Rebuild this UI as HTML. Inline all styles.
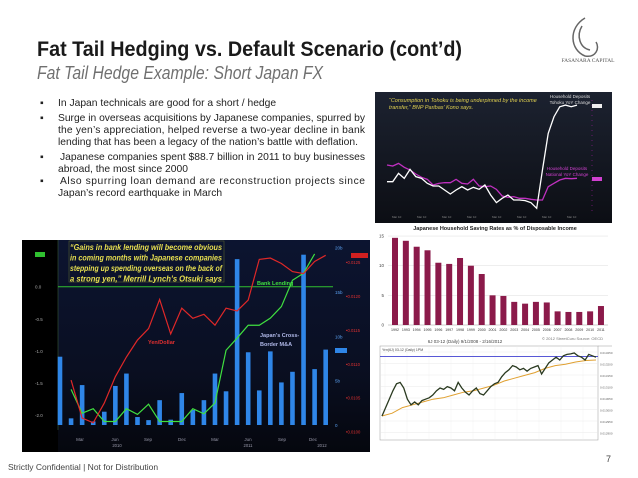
<!DOCTYPE html>
<html><head><meta charset="utf-8"><style>
html,body{margin:0;padding:0;background:#fff;}
svg{display:block;font-family:"Liberation Sans",sans-serif;}
</style></head><body>
<svg id="s" width="638" height="478" viewBox="0 0 638 478" xmlns="http://www.w3.org/2000/svg">
<defs>
<linearGradient id="lg" x1="0" y1="0" x2="0" y2="1"><stop offset="0" stop-color="#0c1430"/><stop offset="0.6" stop-color="#0a0f22"/><stop offset="1" stop-color="#05070e"/></linearGradient>
<linearGradient id="tg" x1="0" y1="0" x2="0" y2="1"><stop offset="0" stop-color="#1c2230"/><stop offset="1" stop-color="#0c0e14"/></linearGradient>
</defs>
<text x="37" y="56" font-size="21" font-weight="bold" fill="#1a1a1a" textLength="425" lengthAdjust="spacingAndGlyphs">Fat Tail Hedging vs. Default Scenario (cont’d)</text>
<text x="37" y="79" font-size="18" font-style="italic" fill="#707070" textLength="286" lengthAdjust="spacingAndGlyphs">Fat Tail Hedge Example: Short Japan FX</text>
<g>
<path d="M585 18 C568 28 570 50 585 56 C596 58 600 48 596 42 M582 26 C576 36 580 48 590 50" stroke="#666" stroke-width="1.5" fill="none"/>
<text x="588" y="62" font-size="5.5" fill="#555" text-anchor="middle" font-family="Liberation Serif,serif">FASANARA CAPITAL</text>
</g>
<g font-size="10.3" fill="#222">
<text x="40" y="106">▪</text><text x="58" y="106">In Japan technicals are good for a short / hedge</text>
<text x="40" y="121">▪</text><text x="58" y="121" textLength="307" lengthAdjust="spacing">Surge in overseas acquisitions by Japanese companies, spurred by</text>
<text x="58" y="133" textLength="307" lengthAdjust="spacing">the yen’s appreciation, helped reverse a two-year decline in bank</text>
<text x="58" y="145" textLength="300" lengthAdjust="spacing">lending that has been a legacy of the nation’s battle with deflation.</text>
<text x="40" y="160">▪</text><text x="60" y="160" textLength="305" lengthAdjust="spacing">Japanese companies spent $88.7 billion in 2011 to buy businesses</text>
<text x="58" y="172">abroad, the most since 2000</text>
<text x="40" y="184">▪</text><text x="60" y="184" textLength="305" lengthAdjust="spacing">Also spurring loan demand are reconstruction projects since</text>
<text x="58" y="196">Japan’s record earthquake in March</text>
</g>
<g id="tr">
<rect x="375" y="92" width="237" height="131" fill="url(#tg)"/>
<text x="389" y="102" font-size="5.5" font-style="italic" fill="#e0d050">“Consumption in Tohoku is being underpinned by the income</text>
<text x="389" y="109" font-size="5.5" font-style="italic" fill="#e0d050">transfer,” BNP Paribas’ Kono says.</text>
<text x="570" y="98" font-size="4.5" fill="#ddd" text-anchor="middle">Household Deposits</text>
<text x="570" y="104" font-size="4.5" fill="#ddd" text-anchor="middle">Tohoku YoY Change</text>
<text x="567" y="170" font-size="4.5" fill="#d040d0" text-anchor="middle">Household Deposits</text>
<text x="567" y="176" font-size="4.5" fill="#d040d0" text-anchor="middle">National YoY Change</text>
<line x1="592" y1="100" x2="592" y2="215" stroke="#a020a0" stroke-width="0.6" stroke-dasharray="1,4"/>
<rect x="592" y="104" width="10" height="4" fill="#eee"/><rect x="592" y="177" width="10" height="4" fill="#d040d0"/>
</g>
<g id="sv">
<text x="495" y="230" font-size="5.5" font-weight="bold" fill="#222" text-anchor="middle">Japanese Household Saving Rates as % of Disposable Income</text>
<text x="603" y="340" font-size="4" fill="#777" text-anchor="end">© 2012 StreetCuru  Source: OECD</text>
</g>
<g id="bt">
<text x="465" y="343" font-size="4.5" fill="#444" text-anchor="middle">6J 03-12 (Daily) 9/1/2008 - 2/16/2012</text>
<rect x="380" y="346" width="218" height="94" fill="#fff" stroke="#999" stroke-width="0.5"/>
<line x1="598" y1="346" x2="612" y2="346" stroke="#999" stroke-width="0.5"/>
<text x="382" y="351" font-size="3.5" fill="#444">Yen(6J) 03-12 (Daily) 1PM</text>
</g>
<g id="lc">
<rect x="22" y="240" width="348" height="212" fill="url(#lg)"/>
<rect x="22" y="240" width="36" height="212" fill="#000"/>
</g>
<text x="8" y="470" font-size="8.5" fill="#444">Strictly Confidential | Not for Distribution</text>
<text x="606" y="462" font-size="9" fill="#444">7</text>
</svg>
<script>
const NS="http://www.w3.org/2000/svg";
function mk(p,t,a){const e=document.createElementNS(NS,t);for(const k in a)e.setAttribute(k,a[k]);p.appendChild(e);return e;}
// ---- top-right chart data
const tohokuValues=[9.5,9.5,12,10.5,13.2,11,10.5,9,8.2,8.2,7,5.8,7,8,7,7.8,7.2,8.5,5.5,3.2,4.5,5.5,4,4,3.8,3.2,1.5,13,24,29,32,32.5,32,32.5];
const nationalValues=[14.5,14.2,15,13.8,13,11.8,10.8,10.2,8.5,9,9.2,9.2,10.2,9,8.8,10.2,8.2,8,8.2,7.2,5.2,4.8,5,4.5,4.5,4.2,4,4,8,9,10,10.5,10.4,10.5];
// ---- saving rates
const savingYears=["1992","1993","1994","1995","1996","1997","1998","1999","2000","2001","2002","2003","2004","2005","2006","2007","2008","2009","2010","2011"];
const savingRates=[14.7,14.2,13.2,12.6,10.5,10.3,11.3,10.0,8.6,5.0,4.9,3.9,3.6,3.9,3.8,2.3,2.2,2.2,2.3,3.2];
const savingTicks=[0,5,10,15];
// ---- futures chart
const priceValues=[5,8,11,14,16.5,17,15,11,9,10,9,10.5,11,11.5,12.5,14,15,14.5,15.5,15,14,17,15,13.5,12.5,14,15,13,12.5,14,15.5,16.5,17,19,20.5,21.5,23,22.5,21.5,22,21,22,22.5,23,20,22,24,25,26,25,26.5,27,27.2,27.5,26.5,26,25,27,26.5,26];
const maValues=[5,6,8,9,10,11,11.5,12.5,13.5,14,15,16,17.5,18.5,19.5,20.5,22,23,23.5,24.3,24.8,25];
const resistanceLevel=25.2;
// ---- left chart
const monthLabels=["Mar","Jun","Sep","Dec","Mar","Jun","Sep","Dec"];
const yearLabels=["2010","2011","2012"];
const maValuesBn=[7.7,0.75,4.5,0.4,1.5,4.4,5.8,0.9,0.55,2.8,0.6,3.6,1.7,2.8,5.8,3.8,18.7,8.2,3.9,8.3,4.8,6.0,19.2,6.3,8.5];
const bankLending=[-1.6,-1.97,-1.9,-2.1,-2.1,-1.9,-1.99,-1.83,-2.1,-2.1,-2.1,-1.9,-1.98,-1.81,-0.99,-0.8,-0.6,-0.6,-0.49,-0.31,0.1,0.21,0.51];
const yenDollar=[0.01076,0.01020,0.01013,0.01042,0.01081,0.01110,0.01135,0.01152,0.01195,0.01144,0.01182,0.01167,0.01173,0.01157,0.01182,0.01178,0.01194,0.01254,0.01256,0.01248,0.01236,0.01233,0.01251,0.01260];
const leftTicks=["0.0","-0.5","-1.0","-1.5","-2.0"];
const blueTicks=["0","5b","10b","15b","20b"];
const redTicks=["0.0100","0.0105","0.0110","0.0115","0.0120","0.0125"];

function pts(arr,fx,fy,off){return arr.map((v,i)=>fx(i+(off||0))+","+fy(v)).join(" ");}

// top-right
(function(){
 const g=document.getElementById('tr');
 const x=i=>387+i*(577-387)/(tohokuValues.length-1), y=v=>213.3-3.33*v;
 for(let i=0;i<8;i++){const t=mk(g,'text',{x:392+i*25,y:218,'font-size':3,fill:'#888'});t.textContent="Mar 10";}
 const l1=mk(g,'polyline',{points:pts(nationalValues,x,y),fill:'none',stroke:'#c030c0','stroke-width':1.3});
 
 
 const l2=mk(g,'polyline',{points:pts(tohokuValues,x,y),fill:'none',stroke:'#fff','stroke-width':1.3});
 
 
})();
// saving
(function(){
 const g=document.getElementById('sv');
 const y=v=>325-v*5.93, x=i=>395+i*10.84;
 savingTicks.forEach(t=>{
  if(t>0){const gl=mk(g,'line',{x1:388,x2:608,y1:y(t),y2:y(t),stroke:'#ddd','stroke-width':0.5});
  
  }
  const tx=mk(g,'text',{x:384,y:y(t)+1.5,'font-size':4.5,fill:'#444','text-anchor':'end'});tx.textContent=t;
 });
 mk(g,'line',{x1:388,x2:608,y1:y(0),y2:y(0),stroke:'#999','stroke-width':0.5});
 savingRates.forEach((v,i)=>{
  const r=mk(g,'rect',{x:x(i)-3,y:y(v),width:6,height:v*5.93,fill:'#8b1a4a'});
  
  
  const t=mk(g,'text',{x:x(i),y:331,'font-size':3.6,fill:'#333','text-anchor':'middle'});t.textContent=savingYears[i];
 });
})();
// futures
(function(){
 const g=document.getElementById('bt');
 const y=v=>80+(1100-10*v*1+0)/3-0, x=i=>382+i*(596-382)/(priceValues.length-1), xm=i=>382+i*(596-382)/(maValues.length-1);
 const yy=v=>80+(1100-(1100-10*v-50)*-1*0)/3; // unused
 const Y=v=>430-v*2.8;
 for(let k=0;k<8;k++){mk(g,'line',{x1:380,x2:598,y1:352+k*11.5,y2:352+k*11.5,stroke:'#e4e4e4','stroke-width':0.4});
  const t=mk(g,'text',{x:600,y:354+k*11.5,'font-size':3,fill:'#666'});t.textContent="0.01"+(3250-k*50);}
 for(let k=0;k<10;k++)mk(g,'line',{x1:385+k*22,x2:385+k*22,y1:346,y2:440,stroke:'#eee','stroke-width':0.4});
 const rl=mk(g,'line',{x1:380,x2:598,y1:Y(resistanceLevel)-3,y2:Y(resistanceLevel)-3,stroke:'#4040d0','stroke-width':0.9});
 
 
 const ma=mk(g,'polyline',{points:pts(maValues,xm,Y),fill:'none',stroke:'#e0a030','stroke-width':1});
 
 
 const pl=mk(g,'polyline',{points:pts(priceValues,x,Y),fill:'none',stroke:'#2a3a20','stroke-width':1.3});
 
 
})();
// left chart
(function(){
 const g=document.getElementById('lc');
 const x=i=>60+11.07*i, yL=v=>286.7-64.2*v, yB=b=>425-8.87*b;
 const yR=v=>230+(198-(v-0.0120)/4.918e-6)/3;
 mk(g,'line',{x1:58,x2:58,y1:240,y2:430,stroke:'#3a5a3a','stroke-width':0.6});
 leftTicks.forEach(t=>{const tx=mk(g,'text',{x:35,y:yL(+t)+2,'font-size':4.5,fill:'#aaa'});tx.textContent=t;});
 blueTicks.forEach((t,k)=>{const tx=mk(g,'text',{x:335,y:yB(k*5)+2,'font-size':4.5,fill:'#5aa0f0'});tx.textContent=t;});
 redTicks.forEach(t=>{const tx=mk(g,'text',{x:346,y:yR(+t)+2,'font-size':4.2,fill:'#e03030'});tx.textContent="•"+t;});
 const mx=[80,115,148,182,215,248,282,313];
 monthLabels.forEach((m,k)=>{const tx=mk(g,'text',{x:mx[k],y:441,'font-size':4.5,fill:'#99a','text-anchor':'middle'});tx.textContent=m;});
 [[117,yearLabels[0]],[248,yearLabels[1]],[322,yearLabels[2]]].forEach(a=>{const tx=mk(g,'text',{x:a[0],y:447,'font-size':4.2,fill:'#99a','text-anchor':'middle'});tx.textContent=a[1];});
 mk(g,'line',{x1:58,x2:333,y1:yL(0),y2:yL(0),stroke:'#30c030','stroke-width':1});
 maValuesBn.forEach((b,i)=>{
  const r=mk(g,'rect',{x:x(i)-2.3,y:yB(b),width:4.6,height:b*8.87,fill:'#2f86e8'});
  
  
 });
 const gl=mk(g,'polyline',{points:pts(bankLending,x,yL,1),fill:'none',stroke:'#40e040','stroke-width':1.2});
 
 
 const rl=mk(g,'polyline',{points:pts(yenDollar,x,yR,1),fill:'none',stroke:'#e02828','stroke-width':1.2});
 
 
 mk(g,'rect',{x:69,y:241,width:155,height:41,fill:'none',stroke:'#556030','stroke-width':0.6});
 ["“Gains in bank lending will become obvious","in coming months with Japanese companies","stepping up spending overseas on the back of","a strong yen,” Merrill Lynch’s Otsuki says"].forEach((s,k)=>{
  const t=mk(g,'text',{x:70,y:250+k*10.5,'font-size':8,'font-weight':'bold','font-style':'italic',fill:'#e8e050',textLength:152,lengthAdjust:'spacingAndGlyphs'});t.textContent=s;});
 const lb=[[257,285,'Bank Lending','#40e040'],[148,344,'Yen/Dollar','#e03030'],[260,337,"Japan's Cross-",'#b0b8e8'],[260,346,'Border M&A','#b0b8e8']];
 lb.forEach(a=>{const t=mk(g,'text',{x:a[0],y:a[1],'font-size':5.5,'font-weight':'bold',fill:a[3]});t.textContent=a[2];});
 mk(g,'rect',{x:35,y:252,width:10,height:5,fill:'#30c030'});
 mk(g,'rect',{x:335,y:348,width:12,height:5,fill:'#2f86e8'});
 mk(g,'rect',{x:351,y:253,width:17,height:5,fill:'#d02020'});
})();
</script>
</body></html>
